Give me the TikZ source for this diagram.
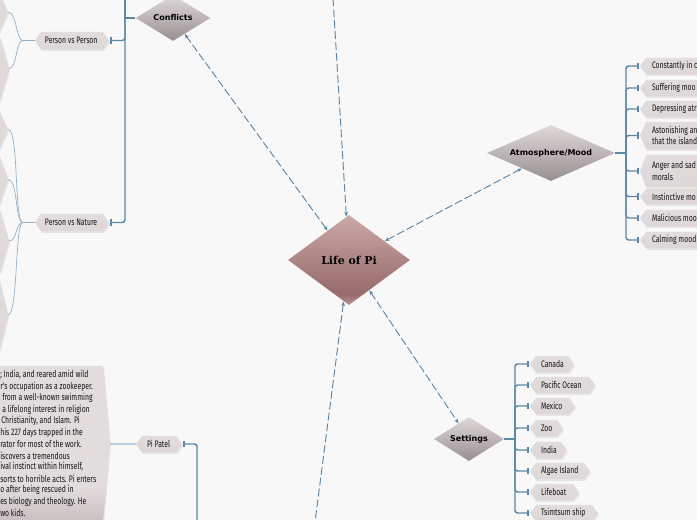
\documentclass[tikz,border=0pt]{standalone}
\usepackage{fontspec}
\setmainfont{Fira Sans}
\newfontfamily\narrowfont[FakeStretch=0.72]{Fira Sans}
\newfontfamily\headfont{DejaVu Sans}
\newfontfamily\titlefont{DejaVu Serif}
\usetikzlibrary{arrows.meta,shapes.geometric,calc}
\definecolor{bgc}{HTML}{F8F8F8}
\definecolor{linec}{HTML}{5B87A8}
\definecolor{thinc}{HTML}{8FB0C8}
\definecolor{stemc}{HTML}{B8CFDD}
\definecolor{boxc}{HTML}{E3DCDC}
\definecolor{boxd}{HTML}{DED7D7}
\definecolor{shc}{HTML}{E6E3E3}
\definecolor{inkc}{HTML}{141414}
\definecolor{rootb}{HTML}{B89494}
\definecolor{rootm}{HTML}{966A6A}
\definecolor{roott}{HTML}{CDA8A8}
\definecolor{bigb}{HTML}{C8C0C0}
\definecolor{topt}{HTML}{DFD8D8}
\definecolor{topm}{HTML}{BDB5B5}
\definecolor{topb}{HTML}{968E8E}
\pgfdeclareverticalshading{rootshade}{100bp}{
  color(0bp)=(rootb); color(25bp)=(rootb); color(31bp)=(rootm); color(75bp)=(roott); color(100bp)=(roott)}
\pgfdeclareverticalshading{bigshade}{100bp}{
  color(0bp)=(bigb); color(25bp)=(bigb); color(36bp)=(boxc); color(100bp)=(boxc)}
\pgfdeclareverticalshading{topicshade}{100bp}{
  color(0bp)=(topb); color(25bp)=(topb); color(50bp)=(topm); color(75bp)=(topt); color(100bp)=(topt)}
\tikzset{
  x=0.75pt,y=-0.75pt,
  rootnode/.style={diamond,aspect=1.36,inner sep=0pt,shading=rootshade,font=\titlefont\bfseries\fontsize{8.2}{10}\selectfont,text=black},
  topicnode/.style={diamond,inner sep=0pt,shading=topicshade,font=\headfont\bfseries\fontsize{6}{7}\selectfont,text=black},
  labelnode/.style={rectangle,inner sep=0pt,font=\narrowfont\fontsize{7.1}{8.6}\selectfont,text=inkc},
  relation/.style={linec,line width=0.7pt,dash pattern=on 6pt off 2.2pt,{Stealth[length=3.6pt,width=2.8pt]}-{Stealth[length=3.6pt,width=2.8pt]}},
  relationopen/.style={linec,line width=0.7pt,dash pattern=on 6pt off 2.2pt,{Stealth[length=3.6pt,width=2.8pt]}-},
  bus/.style={linec,line width=1.1pt,rounded corners=2pt},
  busend/.style={bus,-{Bar[width=5pt,line width=0.9pt]},shorten >=0.8pt},
  twig/.style={thinc,line width=0.5pt},
  stalk/.style={stemc,line width=1pt}
}
% [chamfer]{name}{x0}{x1}{y0}{y1}
\newcommand{\hexnode}[6][6]{%
  \pgfmathsetmacro\hexw{(#4-#3)*0.75}%
  \pgfmathsetmacro\hexh{(#6-#5)*0.75}%
  \pgfmathsetmacro\hexm{(#5+#6)/2}%
  \fill[shc] (#3+1,\hexm+2) -- (#3+#1+1,#5+2) -- (#4-#1+1,#5+2) -- (#4+1,\hexm+2) -- (#4-#1+1,#6+2) -- (#3+#1+1,#6+2) -- cycle;
  \shade[top color=boxc,bottom color=boxd] (#3,\hexm) -- (#3+#1,#5) -- (#4-#1,#5) -- (#4,\hexm) -- (#4-#1,#6) -- (#3+#1,#6) -- cycle;
  \node[labelnode,minimum width=\hexw pt,minimum height=\hexh pt] (#2) at ({(#3+#4)/2},\hexm) {};
}
\newcommand{\hextext}[3]{%
  \node[labelnode,anchor=west,align=left] (#1-text) at ($(#1.west)+(#2,0)$) {#3};
}
\begin{document}
\begin{tikzpicture}
\useasboundingbox (0,0) rectangle (697,520);
\clip (0,0) rectangle (697,520);
\fill[bgc] (0,0) rectangle (697,520);

% off-page end points
\coordinate (topend) at (333,-2);
\coordinate (bottomend) at (315,522);
\coordinate (busC) at (125,18);
\coordinate (busA) at (626,153);
\coordinate (busS) at (515,439);
\coordinate (busP) at (197,530);

% diamonds
\node[rootnode,minimum width=91.5pt,minimum height=67.5pt] (root) at (349,260) {Life of Pi};
\node[topicnode,aspect=1.63,minimum width=56pt,minimum height=34.5pt] (conflicts) at (173,18) {Conflicts};
\node[topicnode,aspect=2.28,minimum width=96pt,minimum height=42pt] (mood) at (551,153) {Atmosphere/Mood};
\node[topicnode,aspect=1.6,minimum width=52.5pt,minimum height=33pt] (settings) at (469,439) {Settings};

% off-page left boxes
\hexnode[9]{la}{-30}{8}{-8}{32}
\hexnode[9]{lb}{-30}{9}{37}{100}
\hexnode[9]{lc}{-30}{8}{110}{149}
\hexnode[9]{ld}{-30}{8}{154}{205}
\hexnode[9]{le}{-30}{9}{210}{272}
\hexnode[9]{lf}{-30}{8}{278}{352}

% big description box
\fill[shc] (-20,368) -- (104,368) -- (111,445) -- (104,523) -- (-20,523) -- cycle;
\shade[shading=bigshade] (-20,366) -- (103,366) -- (110,444) -- (103,521) -- (-20,521) -- cycle;
\node[labelnode,minimum width=97.5pt,minimum height=116pt] (pibio) at (45,444) {};
\foreach \tx/\ty/\tt in {
 0/375/{; India, and reared amid wild},
 0/387/{r's occupation as a zookeeper.},
 2/398/{from a well-known swimming},
 2/410/{a lifelong interest in religion},
 1/421/{Christianity, and Islam. Pi},
 0/433/{his 227 days trapped in the},
 0/444/{rator for most of the work.},
 0/456/{iscovers a tremendous},
 0/467/{ival instinct within himself,},
 0/479/{sorts to horrible acts. Pi enters},
 0/490/{o after being rescued in},
 0/502/{es biology and theology. He},
 0/513/{wo kids.}}{
  \node[labelnode,anchor=west] (bio\ty) at (\tx,\ty) {\tt};
}

% small boxes
\hexnode{pvp}{35}{109}{32}{49}
\hextext{pvp}{10}{Person vs Person}
\hexnode{pvn}{35}{109}{214}{231}
\hextext{pvn}{10}{Person vs Nature}
\hexnode{pi}{136}{182}{436}{452}
\hextext{pi}{11}{Pi Patel}

\hexnode{ma}{640}{730}{58}{74}
\hextext{ma}{12}{Constantly in c}
\hexnode{mb}{640}{730}{80}{96}
\hextext{mb}{12}{Suffering moo}
\hexnode{mc}{640}{730}{101}{117}
\hextext{mc}{12}{Depressing atr}
\hexnode{md}{640}{730}{122}{149}
\hextext{md}{12}{Astonishing an\\that the island}
\hexnode{me}{640}{730}{155}{187}
\hextext{me}{12}{Anger and sad\\morals}
\hexnode{mf}{640}{730}{189}{204}
\hextext{mf}{12}{Instinctive mo}
\hexnode{mg}{640}{730}{210}{226}
\hextext{mg}{12}{Malicious moo}
\hexnode{mh}{640}{730}{232}{248}
\hextext{mh}{12}{Calming mood}

\hexnode{sa}{530}{574}{356}{372}
\hextext{sa}{11}{Canada}
\hexnode{sb}{530}{595}{377}{393}
\hextext{sb}{11}{Pacific Ocean}
\hexnode{sc}{530}{575}{398}{414}
\hextext{sc}{11}{Mexico}
\hexnode{sd}{530}{563}{420}{436}
\hextext{sd}{11}{Zoo}
\hexnode{se}{530}{567}{442}{458}
\hextext{se}{11}{India}
\hexnode{sf}{530}{590}{463}{479}
\hextext{sf}{11}{Algae Island}
\hexnode{sg}{530}{579}{484}{500}
\hextext{sg}{11}{Lifeboat}
\hexnode{sh}{530}{598}{505}{521}
\hextext{sh}{11}{Tsimtsum ship}

% relations
\draw[relation] (root) -- (conflicts);
\draw[relation] (root) -- (mood);
\draw[relation] (root) -- (settings);
\draw[relationopen] (root) -- (topend);
\draw[relationopen] (root) -- (bottomend);

% buses
\draw[bus] (conflicts.west) -- (busC);
\draw[bus] (busC) -- (125,-5);
\draw[busend] (busC) |- (pvp.east);
\draw[busend] (busC) |- (pvn.east);
\draw[bus] (mood.east) -- (busA);
\foreach \n in {ma,mb,mc,md,me,mf,mg,mh}{\draw[busend] (busA) |- (\n.west);}
\draw[bus] (settings.east) -- (busS);
\foreach \n in {sa,sb,sc,sd,se,sf,sg,sh}{\draw[busend] (busS) |- (\n.west);}
\draw[busend] (busP) |- (pi.east);

% thin links to off-page boxes
\draw[stalk] (pi.west) -- (pibio.east);
\draw[twig] (pvp.west) -- ++(-12,0) .. controls (16,40) and (17,13) .. (la.east);
\draw[twig] (pvp.west) -- ++(-12,0) .. controls (16,40) and (17,68) .. (lb.east);
\draw[twig] (pvn.west) -- ++(-12,0) .. controls (14,222) and (19,130) .. (lc.east);
\draw[twig] (pvn.west) -- ++(-12,0) .. controls (15,222) and (18,180) .. (ld.east);
\draw[twig] (pvn.west) -- ++(-12,0) .. controls (16,222) and (17,241) .. (le.east);
\draw[twig] (pvn.west) -- ++(-12,0) .. controls (15,222) and (18,314) .. (lf.east);
\end{tikzpicture}
\end{document}
